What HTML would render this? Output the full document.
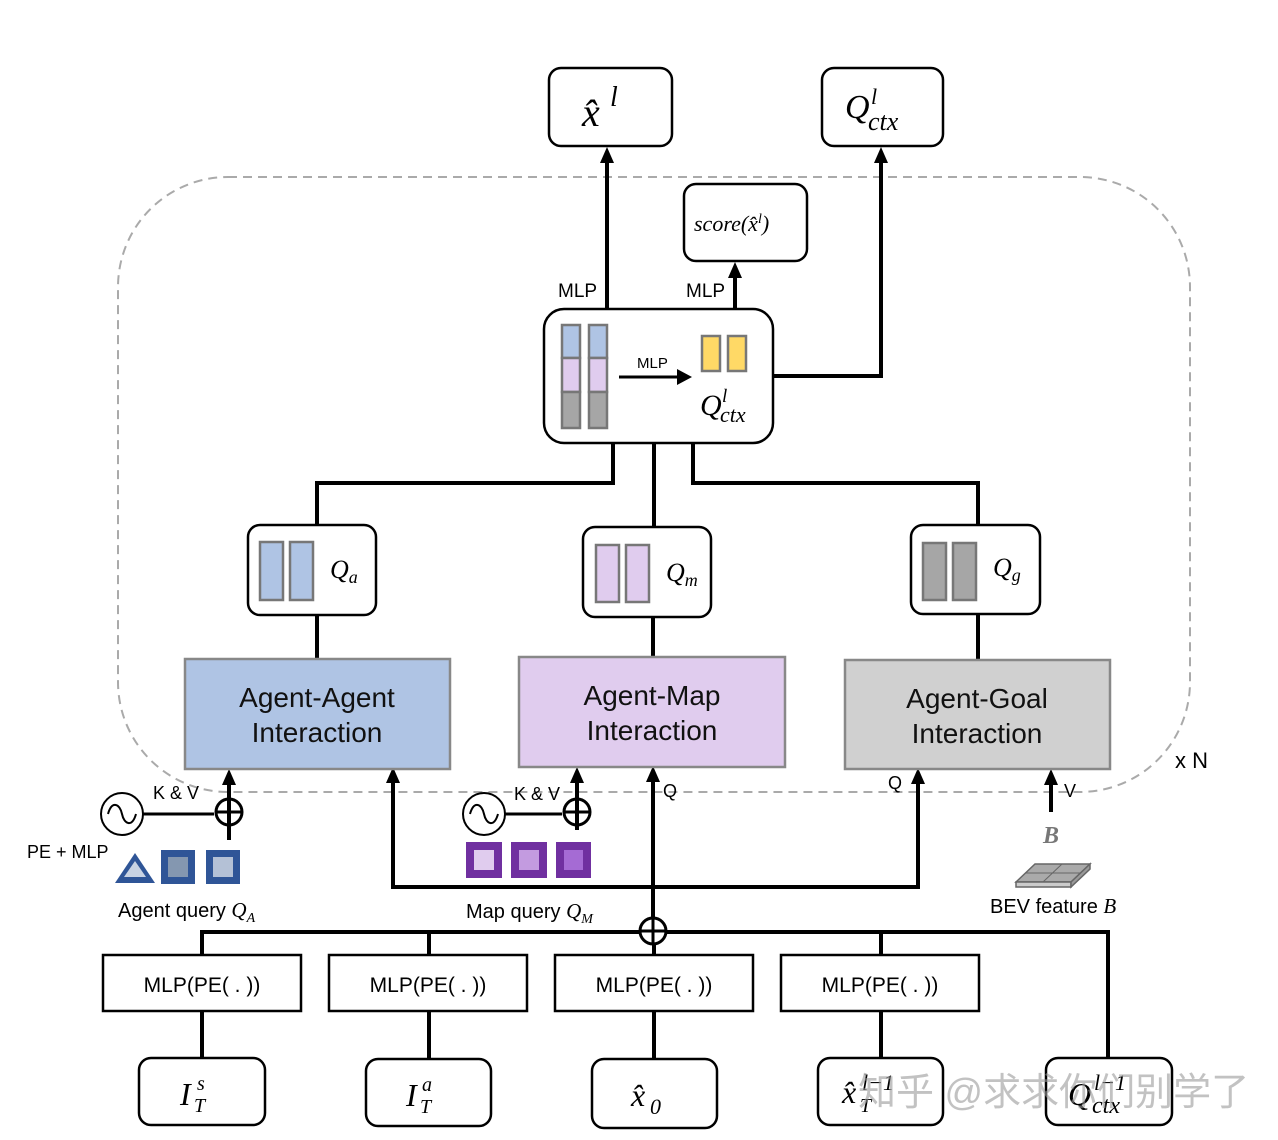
<!DOCTYPE html>
<html><head><meta charset="utf-8"><style>
html,body{margin:0;padding:0;background:#fff;}
svg{display:block}
.s{font-family:"Liberation Sans",sans-serif;}
.m{font-family:"Liberation Serif",serif;font-style:italic;}
</style></head><body>
<svg width="1278" height="1140" viewBox="0 0 1278 1140" xmlns="http://www.w3.org/2000/svg">
<rect width="1278" height="1140" fill="#fff"/>
<rect x="118" y="177" width="1072" height="615" rx="110" fill="none" stroke="#aaa" stroke-width="2" stroke-dasharray="9,6"/>
<text x="1175" y="768" class="s" font-size="22">x N</text>

<g fill="none" stroke="#000" stroke-width="4">
<polyline points="607,309 607,160"/>
<polyline points="735,309 735,275"/>
<polyline points="773,376 881,376 881,160"/>
<polyline points="613,443 613,483 317,483 317,525"/>
<polyline points="654,443 654,527"/>
<polyline points="693,443 693,483 978,483 978,525"/>
<line x1="317" y1="615" x2="317" y2="659"/>
<line x1="653" y1="617" x2="653" y2="657"/>
<line x1="978" y1="614" x2="978" y2="660"/>
<line x1="229" y1="840" x2="229" y2="782"/>
<polyline points="393,782 393,887 918,887 918,782"/>
<line x1="577" y1="830" x2="577" y2="780"/>
<line x1="653" y1="917" x2="653" y2="780"/>
<line x1="1051" y1="812" x2="1051" y2="783"/>
<polyline points="202,955 202,932 1108,932 1108,1058"/>
<line x1="429" y1="932" x2="429" y2="955"/>
<line x1="654" y1="945" x2="654" y2="955"/>
<line x1="881" y1="932" x2="881" y2="955"/>
<line x1="202" y1="1011" x2="202" y2="1058"/>
<line x1="429" y1="1011" x2="429" y2="1059"/>
<line x1="654" y1="1011" x2="654" y2="1059"/>
<line x1="881" y1="1011" x2="881" y2="1058"/>
<line x1="143" y1="814" x2="214" y2="814" stroke-width="3"/>
<line x1="505" y1="814" x2="562" y2="814" stroke-width="3"/>
</g>
<g fill="#000">
<polygon points="607,147 600,163 614,163"/>
<polygon points="735,262 728,278 742,278"/>
<polygon points="881,147 874,163 888,163"/>
<polygon points="229,769 222,785 236,785"/>
<polygon points="393,767 386,783 400,783"/>
<polygon points="918,768 911,784 925,784"/>
<polygon points="577,767 570,783 584,783"/>
<polygon points="653,766 646,782 660,782"/>
<polygon points="1051,769 1044,785 1058,785"/>
</g>
<g fill="none" stroke="#000" stroke-width="3">
<circle cx="229" cy="812" r="13"/><line x1="216" y1="812" x2="242" y2="812"/><line x1="229" y1="799" x2="229" y2="825"/>
<circle cx="577" cy="812" r="13"/><line x1="564" y1="812" x2="590" y2="812"/><line x1="577" y1="799" x2="577" y2="825"/>
<circle cx="653" cy="931" r="13" fill="#fff"/><line x1="640" y1="931" x2="666" y2="931"/><line x1="653" y1="918" x2="653" y2="944"/>
<circle cx="122" cy="814" r="21" stroke-width="2"/>
<circle cx="484" cy="814" r="21" stroke-width="2"/>
<path d="M108,814 C112,800 120,804 122,814 C124,824 132,828 136,814" stroke-width="2"/>
<path d="M470,814 C474,800 482,804 484,814 C486,824 494,828 498,814" stroke-width="2"/>
</g>

<g fill="#fff" stroke="#000" stroke-width="2.5">
<rect x="549" y="68" width="123" height="78" rx="12"/>
<rect x="822" y="68" width="121" height="78" rx="12"/>
<rect x="684" y="184" width="123" height="77" rx="12"/>
<rect x="544" y="309" width="229" height="134" rx="20"/>
<rect x="248" y="525" width="128" height="90" rx="12"/>
<rect x="583" y="527" width="128" height="90" rx="12"/>
<rect x="911" y="525" width="129" height="89" rx="12"/>
</g>
<text x="582" y="126" class="m" font-size="40">x̂</text><text x="610" y="106" class="m" font-size="28">l</text>
<text x="845" y="118" class="m" font-size="34">Q</text><text x="871" y="104" class="m" font-size="22">l</text><text x="868" y="130" class="m" font-size="26">ctx</text>
<text x="694" y="231" class="m" font-size="22">score(x̂<tspan font-size="14" dy="-8">l</tspan><tspan dy="8">)</tspan></text>
<text x="558" y="297" class="s" font-size="19">MLP</text>
<text x="686" y="297" class="s" font-size="19">MLP</text>

<g stroke="#777" stroke-width="2.5">
<rect x="562" y="325" width="18" height="33" fill="#afc4e4"/><rect x="562" y="358" width="18" height="34" fill="#e0ccee"/><rect x="562" y="392" width="18" height="36" fill="#a6a6a6"/>
<rect x="589" y="325" width="18" height="33" fill="#afc4e4"/><rect x="589" y="358" width="18" height="34" fill="#e0ccee"/><rect x="589" y="392" width="18" height="36" fill="#a6a6a6"/>
<rect x="702" y="336" width="18" height="35" fill="#ffd966"/><rect x="728" y="336" width="18" height="35" fill="#ffd966"/>
<rect x="260" y="542" width="23" height="58" fill="#afc4e4"/><rect x="290" y="542" width="23" height="58" fill="#afc4e4"/>
<rect x="596" y="545" width="23" height="57" fill="#e0ccee"/><rect x="626" y="545" width="23" height="57" fill="#e0ccee"/>
<rect x="923" y="543" width="23" height="57" fill="#a6a6a6"/><rect x="953" y="543" width="23" height="57" fill="#a6a6a6"/>
</g>
<line x1="619" y1="377" x2="680" y2="377" stroke="#000" stroke-width="3"/>
<polygon points="692,377 677,369 677,385" fill="#000"/>
<text x="637" y="368" class="s" font-size="15">MLP</text>
<text x="700" y="415" class="m" font-size="30">Q</text><text x="722" y="402" class="m" font-size="19">l</text><text x="720" y="422" class="m" font-size="22">ctx</text>
<text x="330" y="578" class="m" font-size="26">Q<tspan font-size="18" dy="5">a</tspan></text>
<text x="666" y="581" class="m" font-size="26">Q<tspan font-size="18" dy="5">m</tspan></text>
<text x="993" y="576" class="m" font-size="26">Q<tspan font-size="18" dy="5">g</tspan></text>

<rect x="185" y="659" width="265" height="110" fill="#afc4e4" stroke="#888" stroke-width="2.5"/>
<rect x="519" y="657" width="266" height="110" fill="#e0ccee" stroke="#888" stroke-width="2.5"/>
<rect x="845" y="660" width="265" height="109" fill="#d0d0d0" stroke="#888" stroke-width="2.5"/>
<g class="s" font-size="28" text-anchor="middle" fill="#111">
<text x="317" y="707">Agent-Agent</text><text x="317" y="742">Interaction</text>
<text x="652" y="705">Agent-Map</text><text x="652" y="740">Interaction</text>
<text x="977" y="708">Agent-Goal</text><text x="977" y="743">Interaction</text>
</g>
<g class="s" font-size="18">
<text x="153" y="799">K &amp; V</text>
<text x="514" y="800">K &amp; V</text>
<text x="663" y="797">Q</text>
<text x="888" y="789">Q</text>
<text x="1064" y="797">V</text>
<text x="27" y="858">PE + MLP</text>
</g>
<polygon points="115,883 135,853 155,883" fill="#2f5597"/>
<polygon points="124,877 135,861 146,877" fill="#c9d3e3"/>
<rect x="161" y="850" width="34" height="34" fill="#2f5597"/><rect x="168" y="857" width="20" height="20" fill="#8497b0"/>
<rect x="206" y="850" width="34" height="34" fill="#2f5597"/><rect x="213" y="857" width="20" height="20" fill="#b4c1d6"/>
<rect x="466" y="842" width="36" height="36" fill="#7030a0"/><rect x="474" y="850" width="20" height="20" fill="#e0ccee"/>
<rect x="511" y="842" width="36" height="36" fill="#7030a0"/><rect x="519" y="850" width="20" height="20" fill="#c39be0"/>
<rect x="556" y="842" width="35" height="36" fill="#7030a0"/><rect x="564" y="850" width="19" height="20" fill="#a56bd4"/>
<text x="118" y="917" class="s" font-size="20">Agent query <tspan class="m" font-size="21">Q</tspan><tspan class="m" font-size="14" dy="5">A</tspan></text>
<text x="466" y="918" class="s" font-size="20">Map query <tspan class="m" font-size="21">Q</tspan><tspan class="m" font-size="14" dy="5">M</tspan></text>
<text x="1043" y="843" font-family="Liberation Serif,serif" font-style="italic" font-weight="bold" font-size="24" fill="#777">B</text>
<polygon points="1016,882 1035,864 1090,864 1071,882" fill="#aaa" stroke="#666" stroke-width="1.5"/>
<polygon points="1016,882 1071,882 1071,887 1016,887" fill="#ccc" stroke="#666" stroke-width="1.5"/>
<polygon points="1071,882 1090,864 1090,869 1071,887" fill="#999" stroke="#666" stroke-width="1.5"/>
<line x1="1043" y1="882" x2="1062" y2="864" stroke="#666"/><line x1="1025" y1="873" x2="1080" y2="873" stroke="#666"/>
<text x="990" y="913" class="s" font-size="20">BEV feature <tspan class="m" font-size="21">B</tspan></text>

<g fill="#fff" stroke="#000" stroke-width="2.5">
<rect x="103" y="955" width="198" height="56"/><rect x="329" y="955" width="198" height="56"/>
<rect x="555" y="955" width="198" height="56"/><rect x="781" y="955" width="198" height="56"/>
</g>
<g class="s" font-size="21" text-anchor="middle">
<text x="202" y="992">MLP(PE( . ))</text><text x="428" y="992">MLP(PE( . ))</text>
<text x="654" y="992">MLP(PE( . ))</text><text x="880" y="992">MLP(PE( . ))</text>
</g>
<g fill="#fff" stroke="#000" stroke-width="2.5">
<rect x="139" y="1058" width="126" height="67" rx="12"/>
<rect x="366" y="1059" width="125" height="67" rx="12"/>
<rect x="592" y="1059" width="125" height="69" rx="12"/>
<rect x="818" y="1058" width="125" height="67" rx="12"/>
<rect x="1046" y="1058" width="126" height="67" rx="12"/>
</g>
<g class="m">
<text x="180" y="1105" font-size="32">I</text><text x="197" y="1090" font-size="20">s</text><text x="194" y="1112" font-size="20">T</text>
<text x="406" y="1106" font-size="32">I</text><text x="422" y="1091" font-size="20">a</text><text x="420" y="1113" font-size="20">T</text>
<text x="631" y="1106" font-size="32">x̂</text><text x="650" y="1114" font-size="22">0</text>
<text x="842" y="1103" font-size="32">x̂</text><text x="862" y="1090" font-size="22">l−1</text><text x="860" y="1112" font-size="20">T</text>
<text x="1068" y="1105" font-size="32">Q</text><text x="1094" y="1090" font-size="22">l−1</text><text x="1092" y="1113" font-size="24">ctx</text>
</g>
<text x="858" y="1105" font-family="'Liberation Sans','Noto Sans CJK SC',sans-serif" font-size="38" fill="#999" fill-opacity="0.6">知乎 @求求你们别学了</text>
</svg>
</body></html>
